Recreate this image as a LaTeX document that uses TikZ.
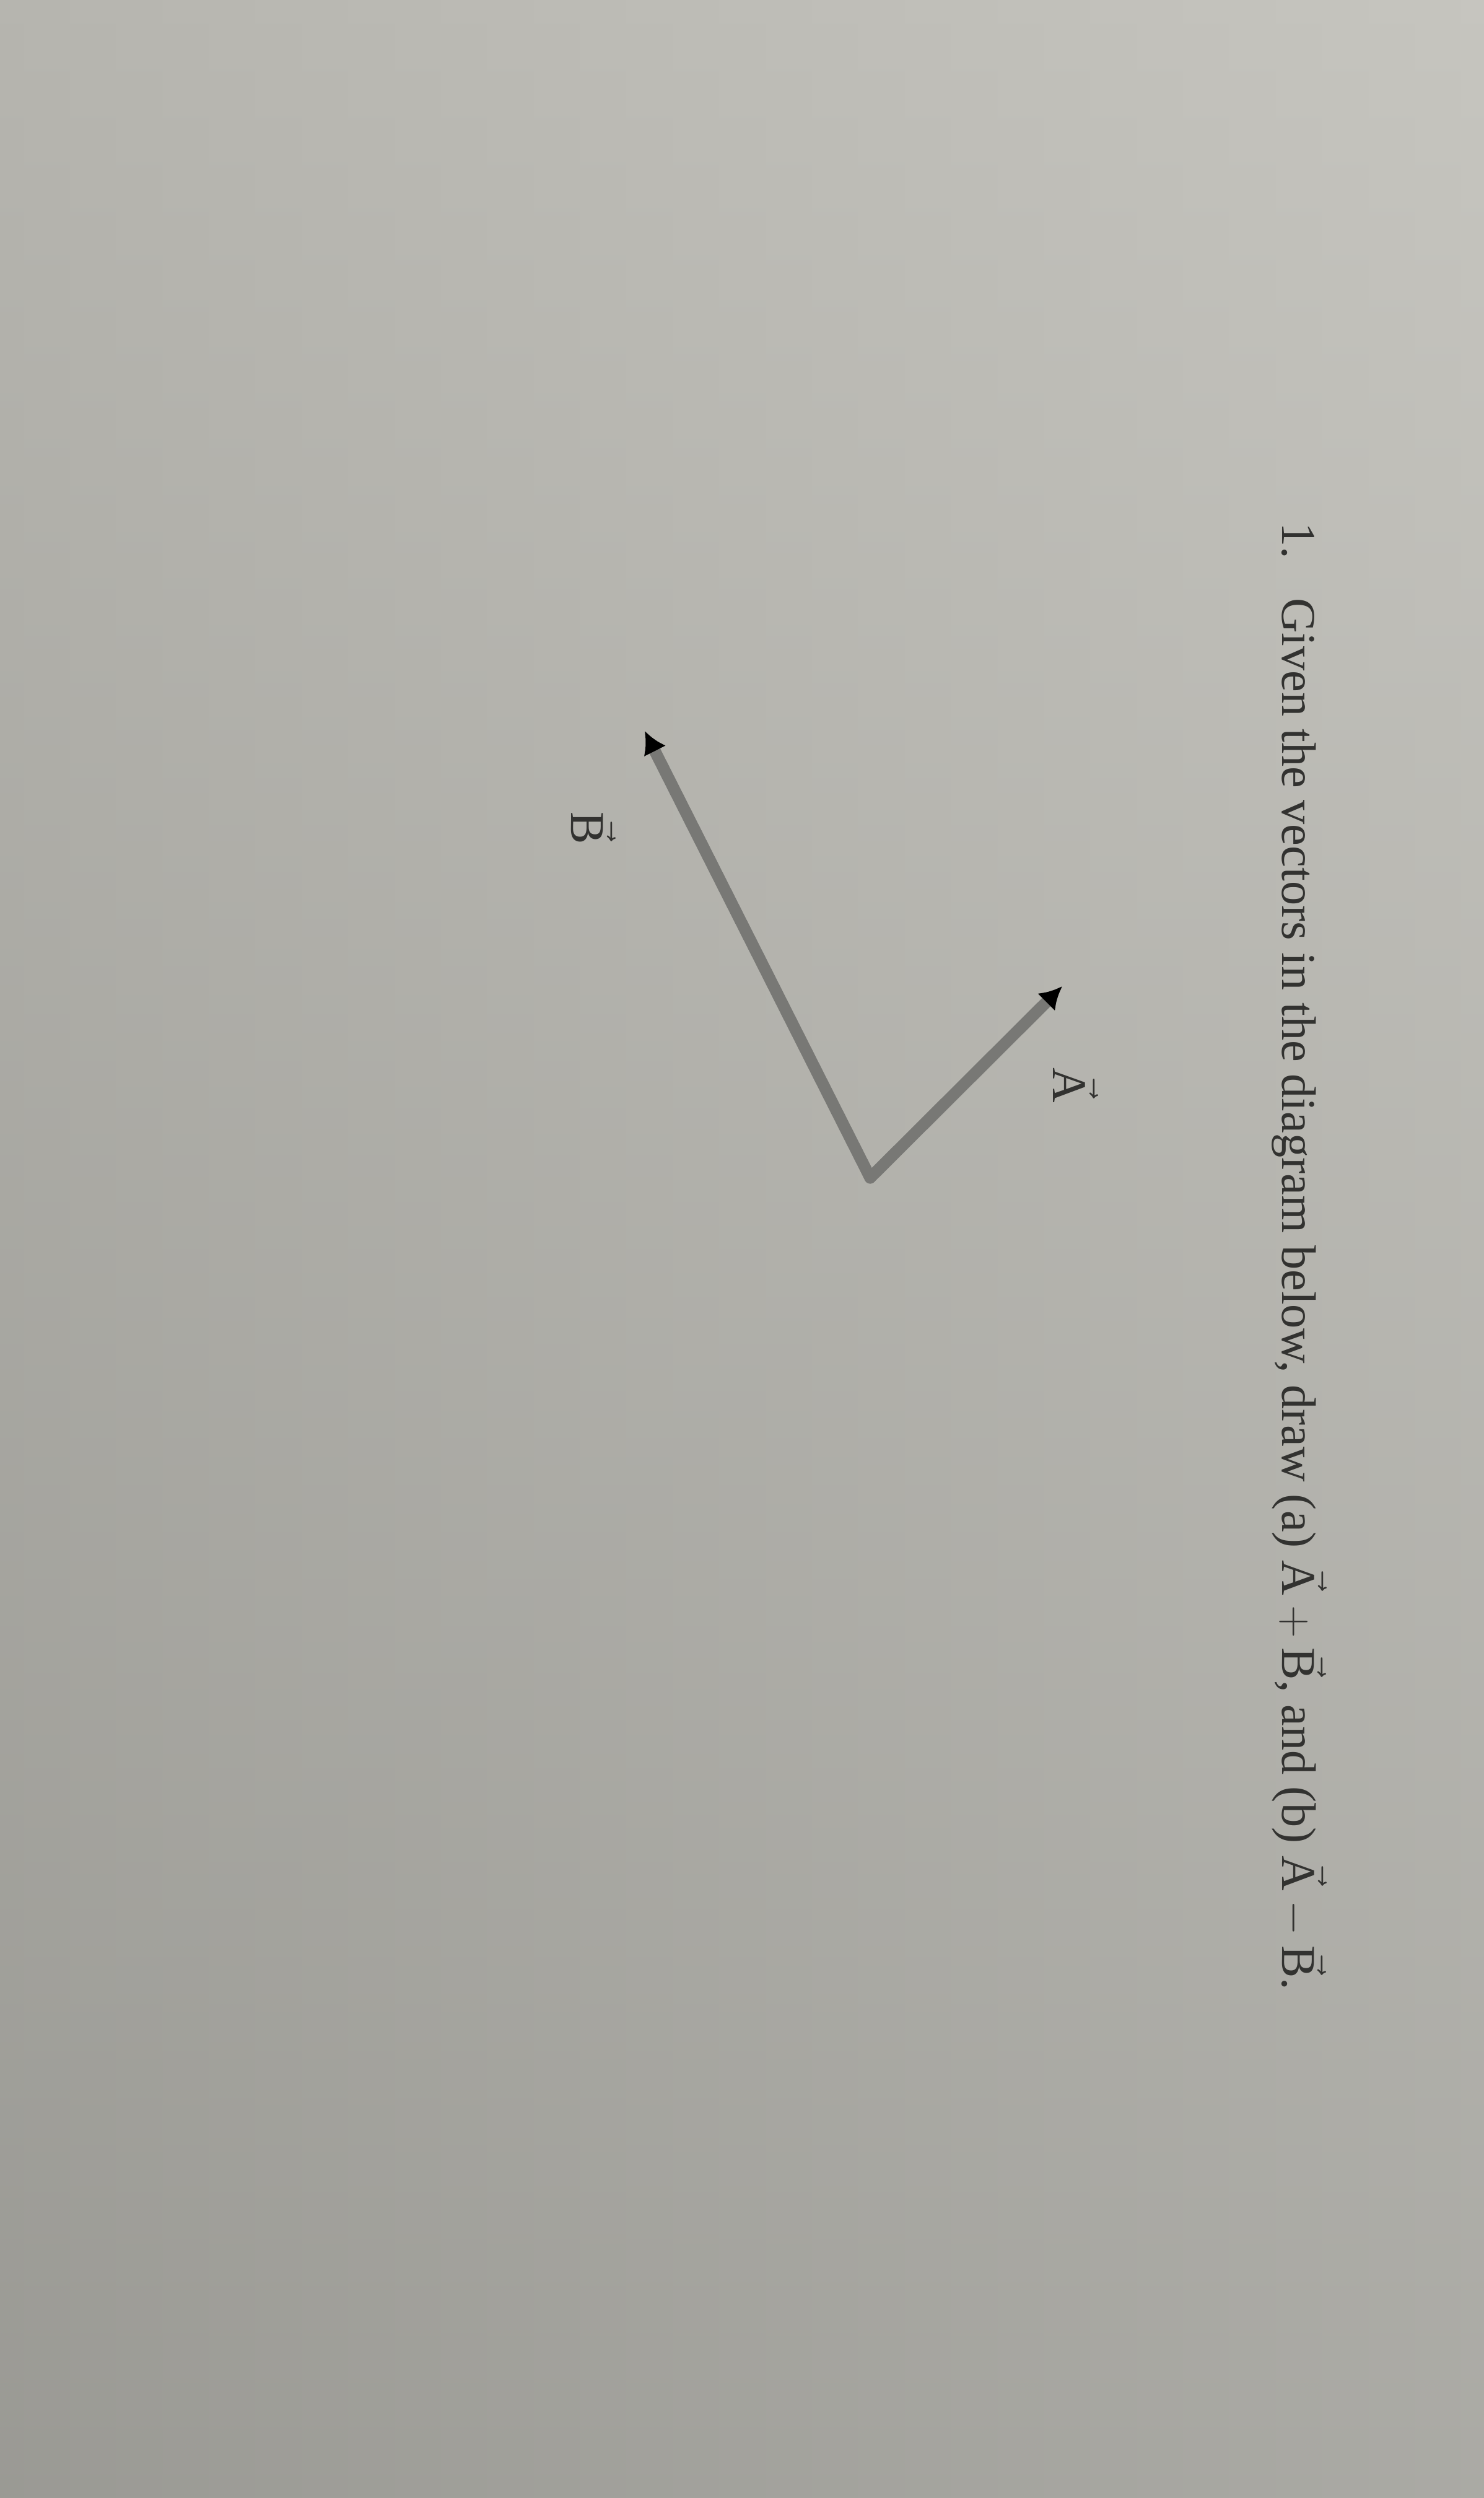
\documentclass[tikz,border=0pt]{standalone}
\usepackage{fontspec}
\setmainfont{Liberation Serif}
\usetikzlibrary{arrows.meta}
\definecolor{paperL}{RGB}{160,159,153}
\definecolor{paperR}{RGB}{192,191,185}
\definecolor{paperT}{RGB}{204,203,197}
\definecolor{paperB}{RGB}{150,150,145}
\definecolor{inkgray}{RGB}{50,50,48}
\definecolor{vecgray}{RGB}{120,120,117}
\tikzset{
  vecline/.style={draw=vecgray, line width=0.19cm, line cap=round,
    -{Latex[length=0.36cm, width=0.40cm, black]}},
  rotlabel/.style={rotate=-90, inner sep=0pt, text=inkgray, font=\fontsize{22.3}{26}\selectfont},
}
\begin{document}
\begin{tikzpicture}
\useasboundingbox (0,0) rectangle (23.96,-40.32);
\shade[left color=paperL, right color=paperR] (0,0) rectangle (23.96,-40.32);
\shade[top color=paperT, bottom color=paperB, opacity=0.5] (0,0) rectangle (23.96,-40.32);
% question text
\node[rotlabel, anchor=base west] (question) at (20.70,-8.43)
  {1.\hspace{0.8em}Given the vectors in the diagram below, draw (a) $\vec{\mathrm{A}}+\vec{\mathrm{B}}$, and (b) $\vec{\mathrm{A}}-\vec{\mathrm{B}}$.};
% vectors
\coordinate (O) at (14.05,-19.01);
\coordinate (Atip) at (17.15,-15.92);
\coordinate (Btip) at (10.41,-11.80);
\draw[vecline] (O) -- (Atip);
\draw[vecline] (O) -- (Btip);
% labels
\node[rotlabel] (Alabel) at (17.37,-17.52) {$\vec{\mathrm{A}}$};
\node[rotlabel] (Blabel) at (9.58,-13.37) {$\vec{\mathrm{B}}$};
\end{tikzpicture}
\end{document}
